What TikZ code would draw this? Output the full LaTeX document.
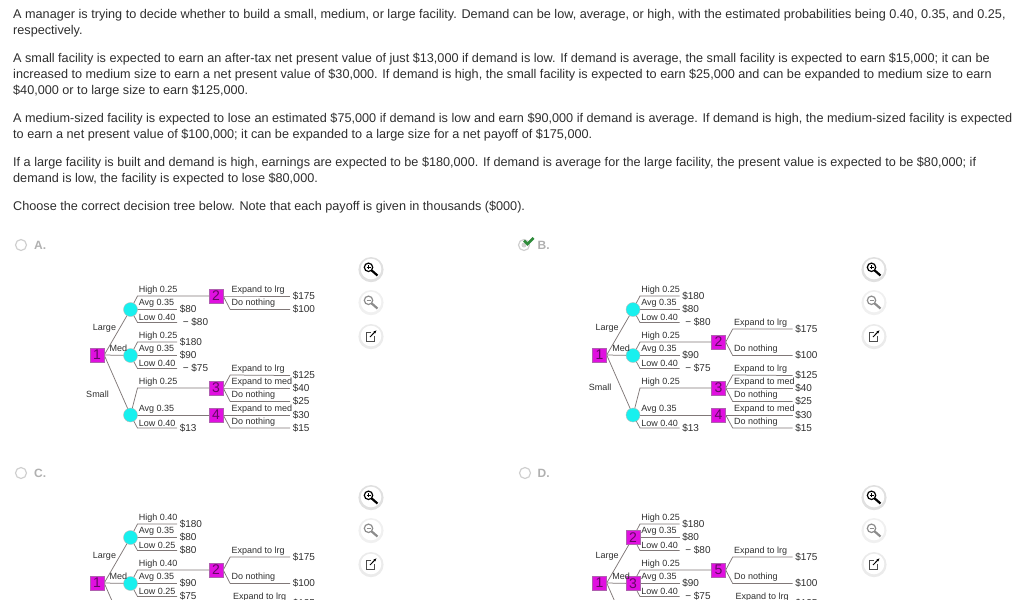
\documentclass[tikz,border=0pt]{standalone}
\usepackage{fontspec}
\setmainfont{Liberation Sans}
\usetikzlibrary{arrows.meta, positioning, shapes.geometric, backgrounds}

\definecolor{bodytext}{HTML}{2E2E2E}
\definecolor{edgegray}{HTML}{807878}
\definecolor{decfill}{HTML}{E010E0}
\definecolor{decline}{HTML}{B060B0}
\definecolor{chancefill}{HTML}{18F0EE}
\definecolor{radiogray}{HTML}{CFCFCF}
\definecolor{lettergray}{HTML}{B0B0B0}
\definecolor{checkgreen}{HTML}{2E8B3A}

\tikzset{
    para/.style={anchor=north west, inner sep=0pt, align=left, text=bodytext,
        font=\fontsize{12.66}{16}\selectfont},
    dec/.style={draw=decline, fill=decfill, minimum size=14pt, inner sep=0pt,
        text=black!55!decfill, font=\fontsize{14}{14}\selectfont},
    chance/.style={draw=edgegray!50, circle, fill=chancefill, minimum size=14pt, inner sep=0pt},
    branch/.style={draw=edgegray, line width=0.75pt},
    lab/.style={anchor=south west, inner xsep=1pt, inner ysep=1.5pt, text=bodytext, font=\fontsize{9}{9}\selectfont},
    alt/.style={inner sep=0pt, text=bodytext, font=\fontsize{9}{9}\selectfont},
    pay/.style={anchor=west, inner sep=2.6pt, text=bodytext, font=\fontsize{10}{10}\selectfont},
    radio/.style={draw=radiogray, circle, line width=1.2pt, minimum size=11pt, inner sep=0pt},
    letter/.style={anchor=west, inner sep=0pt, text=lettergray, font=\fontsize{12}{12}\selectfont\bfseries},
    halo/.pic={
        \fill[black!#1!white] (0,0.6) circle (12.6);
        \fill[black!#1!white, opacity=0.6] (0,0.6) circle (11.6);
        \fill[white] (0,0) circle (10.3);
    },
    zoomplus/.pic={
        \pic {halo=12};
        \draw[black, line width=1.2pt] (-2.5,-1.7) circle (4.2);
        \draw[black, line width=2.2pt] (0.6,1.4) -- (6.5,6.5);
        \draw[black, line width=0.7pt] (-4.5,-1.7) -- (-0.5,-1.7) (-2.5,-3.7) -- (-2.5,0.3);
    },
    zoomminus/.pic={
        \pic {halo=6};
        \draw[black!45, line width=1.2pt] (-2.5,-1.7) circle (4.2);
        \draw[black!45, line width=2.2pt] (0.6,1.4) -- (6.5,6.5);
        \draw[black!45, line width=0.7pt] (-4.5,-1.7) -- (-0.5,-1.7);
    },
    openlink/.pic={
        \pic {halo=8};
        \draw[black!70, line width=0.8pt] (0,-4) -- (-5,-4) -- (-5,5) -- (3,5) -- (3,0);
        \draw[black, line width=1pt, -{Latex[length=3.5pt]}] (-1,1) -- (5.8,-6);
    }
}

\begin{document}
\begin{tikzpicture}[x=1pt, y=-1pt]
    \useasboundingbox (0,0) rectangle (1024,611);

    % Question text
    \node[para] (q1) at (13,9.5) {A manager is trying to decide whether to build a small, medium, or large facility. Demand can be low, average, or high, with the estimated probabilities being 0.40, 0.35, and 0.25,\\respectively.};
    \node[para] (q2) at (13,52.5) {A small facility is expected to earn an after-tax net present value of just \$13,000 if demand is low. If demand is average, the small facility is expected to earn \$15,000; it can be\\increased to medium size to earn a net present value of \$30,000. If demand is high, the small facility is expected to earn \$25,000 and can be expanded to medium size to earn\\\$40,000 or to large size to earn \$125,000.};
    \node[para] (q3) at (13,112.5) {A medium-sized facility is expected to lose an estimated \$75,000 if demand is low and earn \$90,000 if demand is average. If demand is high, the medium-sized facility is expected\\to earn a net present value of \$100,000; it can be expanded to a large size for a net payoff of \$175,000.};
    \node[para] (q4) at (13,156.5) {If a large facility is built and demand is high, earnings are expected to be \$180,000. If demand is average for the large facility, the present value is expected to be \$80,000; if\\demand is low, the facility is expected to lose \$80,000.};
    \node[para] (q5) at (13,200.5) {Choose the correct decision tree below. Note that each payoff is given in thousands (\$000).};

    % Answer A
    \node[radio] (ra) at (21,245) {};
    \node[letter] (la) at (34,245) {A.};
    \pic at (371,269) {zoomplus};
    \pic at (371,302) {zoomminus};
    \pic at (371,336) {openlink};

    \node[dec] (a1) at (97,355) {1};
    \node[chance] (al) at (130.5,309.5) {};
    \node[chance] (am) at (130.5,355.5) {};
    \node[chance] (as) at (130.5,415) {};
    \node[dec] (a2) at (216,296) {2};
    \node[dec] (a3) at (216,388) {3};
    \node[dec] (a4) at (216,415) {4};
    \node[alt] (alarge) at (104.5,328) {Large};
    \node[alt] (amed) at (118.5,348) {Med};
    \node[alt] (asmall) at (97.5,394) {Small};
    \node[pay] (ap1) at (177,309.5) {\$80};
    \node[pay] (ap2) at (177,322.5) {\hspace{3pt}− \$80};
    \node[pay] (ap3) at (177,342) {\$180};
    \node[pay] (ap4) at (177,355.5) {\$90};
    \node[pay] (ap5) at (177,368.5) {\hspace{3pt}− \$75};
    \node[pay] (ap6) at (177,428) {\$13};
    \node[pay] (ap7) at (290,296) {\$175};
    \node[pay] (ap8) at (290,309.5) {\$100};
    \node[pay] (ap9) at (290,375.5) {\$125};
    \node[pay] (ap10) at (290,388) {\$40};
    \node[pay] (ap11) at (290,401.5) {\$25};
    \node[pay] (ap12) at (290,415) {\$30};
    \node[pay] (ap13) at (290,428) {\$15};

    \begin{scope}[on background layer]
        \draw[branch] (a1.east) -- (al.center);
        \draw[branch] (a1.east) -- (am.center);
        \draw[branch] (a1.east) -- (as.center);
        \draw[branch] (al.center) -- +(7,-13.5) -- node[lab, pos=0] {High 0.25} (a2);
        \draw[branch] (al.center) -- +(7,0) -- node[lab, pos=0] {Avg 0.35} (ap1.west);
        \draw[branch] (al.center) -- +(7,13) -- node[lab, pos=0] {Low 0.40} (ap2.west);
        \draw[branch] (am.center) -- +(7,-13.5) -- node[lab, pos=0] {High 0.25} (ap3.west);
        \draw[branch] (am.center) -- +(7,0) -- node[lab, pos=0] {Avg 0.35} (ap4.west);
        \draw[branch] (am.center) -- +(7,13) -- node[lab, pos=0] {Low 0.40} (ap5.west);
        \draw[branch] (as.center) -- +(7,-27) -- node[lab, pos=0] {High 0.25} (a3);
        \draw[branch] (as.center) -- +(7,0) -- node[lab, pos=0] {Avg 0.35} (a4);
        \draw[branch] (as.center) -- +(7,13) -- node[lab, pos=0] {Low 0.40} (ap6.west);
        \draw[branch] (a2.east) -- +(7,0) -- node[lab, pos=0] {Expand to lrg} (ap7.west);
        \draw[branch] (a2.east) -- +(7,13.5) -- node[lab, pos=0] {Do nothing} (ap8.west);
        \draw[branch] (a3.east) -- +(7,-13) -- node[lab, pos=0] {Expand to lrg} (ap9.west);
        \draw[branch] (a3.east) -- +(7,0) -- node[lab, pos=0] {Expand to med} (ap10.west);
        \draw[branch] (a3.east) -- +(7,13.5) -- node[lab, pos=0] {Do nothing} (ap11.west);
        \draw[branch] (a4.east) -- +(7,0) -- node[lab, pos=0] {Expand to med} (ap12.west);
        \draw[branch] (a4.east) -- +(7,13) -- node[lab, pos=0] {Do nothing} (ap13.west);
    \end{scope}

    % Answer B
    \begin{scope}[xshift=502.5pt]
    \node[radio] (rb) at (21.5,245) {};
    \fill[radiogray] (rb.center) circle (2.5);
    \draw[checkgreen, line width=2.8pt] (21.5,240.5) -- (25,244) -- (31,238);
    \node[letter] (lb) at (35,245) {B.};
    \pic at (371.5,269) {zoomplus};
    \pic at (371.5,302) {zoomminus};
    \pic at (371.5,336) {openlink};

    \node[dec] (b1) at (97,355) {1};
    \node[chance] (bl) at (130.5,309.5) {};
    \node[chance] (bm) at (130.5,355.5) {};
    \node[chance] (bs) at (130.5,415) {};
    \node[dec] (b2) at (216,342) {2};
    \node[dec] (b3) at (216,388) {3};
    \node[dec] (b4) at (216,415) {4};
    \node[alt] (blarge) at (104.5,328) {Large};
    \node[alt] (bmed) at (118.5,348) {Med};
    \node[alt] (bsmall) at (97.5,387) {Small};
    \node[pay] (bp1) at (177,296) {\$180};
    \node[pay] (bp2) at (177,309.5) {\$80};
    \node[pay] (bp3) at (177,322.5) {\hspace{3pt}− \$80};
    \node[pay] (bp4) at (177,355.5) {\$90};
    \node[pay] (bp5) at (177,368.5) {\hspace{3pt}− \$75};
    \node[pay] (bp6) at (177,428) {\$13};
    \node[pay] (bp7) at (290,329) {\$175};
    \node[pay] (bp8) at (290,355.5) {\$100};
    \node[pay] (bp9) at (290,375.5) {\$125};
    \node[pay] (bp10) at (290,388) {\$40};
    \node[pay] (bp11) at (290,401.5) {\$25};
    \node[pay] (bp12) at (290,415) {\$30};
    \node[pay] (bp13) at (290,428) {\$15};

    \begin{scope}[on background layer]
        \draw[branch] (b1.east) -- (bl.center);
        \draw[branch] (b1.east) -- (bm.center);
        \draw[branch] (b1.east) -- (bs.center);
        \draw[branch] (bl.center) -- +(7,-13.5) -- node[lab, pos=0] {High 0.25} (bp1.west);
        \draw[branch] (bl.center) -- +(7,0) -- node[lab, pos=0] {Avg 0.35} (bp2.west);
        \draw[branch] (bl.center) -- +(7,13) -- node[lab, pos=0] {Low 0.40} (bp3.west);
        \draw[branch] (bm.center) -- +(7,-13.5) -- node[lab, pos=0] {High 0.25} (b2);
        \draw[branch] (bm.center) -- +(7,0) -- node[lab, pos=0] {Avg 0.35} (bp4.west);
        \draw[branch] (bm.center) -- +(7,13) -- node[lab, pos=0] {Low 0.40} (bp5.west);
        \draw[branch] (bs.center) -- +(7,-27) -- node[lab, pos=0] {High 0.25} (b3);
        \draw[branch] (bs.center) -- +(7,0) -- node[lab, pos=0] {Avg 0.35} (b4);
        \draw[branch] (bs.center) -- +(7,13) -- node[lab, pos=0] {Low 0.40} (bp6.west);
        \draw[branch] (b2.east) -- +(7,-13) -- node[lab, pos=0] {Expand to lrg} (bp7.west);
        \draw[branch] (b2.east) -- +(7,13.5) -- node[lab, pos=0] {Do nothing} (bp8.west);
        \draw[branch] (b3.east) -- +(7,-13) -- node[lab, pos=0] {Expand to lrg} (bp9.west);
        \draw[branch] (b3.east) -- +(7,0) -- node[lab, pos=0] {Expand to med} (bp10.west);
        \draw[branch] (b3.east) -- +(7,13.5) -- node[lab, pos=0] {Do nothing} (bp11.west);
        \draw[branch] (b4.east) -- +(7,0) -- node[lab, pos=0] {Expand to med} (bp12.west);
        \draw[branch] (b4.east) -- +(7,13) -- node[lab, pos=0] {Do nothing} (bp13.west);
    \end{scope}
    \end{scope}

    % Answer C, cut off by the page fold
    \begin{scope}[yshift=-228pt]
    \node[radio] (rc) at (21,245) {};
    \node[letter] (lc) at (34,245) {C.};
    \pic at (371,269) {zoomplus};
    \pic at (371,302) {zoomminus};
    \pic at (371,336) {openlink};

    \node[dec] (c1) at (97,355) {1};
    \node[chance] (cl) at (130.5,309.5) {};
    \node[chance] (cm) at (130.5,355.5) {};
    \node[chance] (cs) at (130.5,415) {};
    \node[dec] (c2) at (216,342) {2};
    \node[alt] (clarge) at (104.5,328) {Large};
    \node[alt] (cmed) at (118.5,348) {Med};
    \node[pay] (cp1) at (177,296) {\$180};
    \node[pay] (cp2) at (177,309.5) {\$80};
    \node[pay] (cp3) at (177,322.5) {\$80};
    \node[pay] (cp4) at (177,355.5) {\$90};
    \node[pay] (cp5) at (177,368.5) {\$75};
    \node[pay] (cp7) at (290,329) {\$175};
    \node[pay] (cp8) at (290,355.5) {\$100};
    \node[pay] (cp9) at (290,375.5) {\$125};
    \node[lab] (cx) at (232,375) {Expand to lrg};

    \begin{scope}[on background layer]
        \draw[branch] (c1.east) -- (cl.center);
        \draw[branch] (c1.east) -- (cm.center);
        \draw[branch] (c1.east) -- (cs.center);
        \draw[branch] (cl.center) -- +(7,-13.5) -- node[lab, pos=0] {High 0.40} (cp1.west);
        \draw[branch] (cl.center) -- +(7,0) -- node[lab, pos=0] {Avg 0.35} (cp2.west);
        \draw[branch] (cl.center) -- +(7,13) -- node[lab, pos=0] {Low 0.25} (cp3.west);
        \draw[branch] (cm.center) -- +(7,-13.5) -- node[lab, pos=0] {High 0.40} (c2);
        \draw[branch] (cm.center) -- +(7,0) -- node[lab, pos=0] {Avg 0.35} (cp4.west);
        \draw[branch] (cm.center) -- +(7,13) -- node[lab, pos=0] {Low 0.25} (cp5.west);
        \draw[branch] (c2.east) -- +(7,-13) -- node[lab, pos=0] {Expand to lrg} (cp7.west);
        \draw[branch] (c2.east) -- +(7,13.5) -- node[lab, pos=0] {Do nothing} (cp8.west);
    \end{scope}
    \end{scope}

    % Answer D
    \begin{scope}[xshift=502.5pt, yshift=-228pt]
    \node[radio] (rd) at (22.5,245) {};
    \node[letter] (ld) at (35,245) {D.};
    \pic at (371.5,269) {zoomplus};
    \pic at (371.5,302) {zoomminus};
    \pic at (371.5,336) {openlink};

    \node[dec] (d1) at (97,355) {1};
    \node[dec] (dl) at (130.5,309.5) {2};
    \node[dec] (dm) at (130.5,355.5) {3};
    \node[chance] (ds) at (130.5,415) {};
    \node[dec] (d2) at (216,342) {5};
    \node[alt] (dlarge) at (104.5,328) {Large};
    \node[alt] (dmed) at (118.5,348) {Med};
    \node[pay] (dp1) at (177,296) {\$180};
    \node[pay] (dp2) at (177,309.5) {\$80};
    \node[pay] (dp3) at (177,322.5) {\hspace{3pt}− \$80};
    \node[pay] (dp4) at (177,355.5) {\$90};
    \node[pay] (dp5) at (177,368.5) {\hspace{3pt}− \$75};
    \node[pay] (dp7) at (290,329) {\$175};
    \node[pay] (dp8) at (290,355.5) {\$100};
    \node[pay] (dp9) at (290,375.5) {\$125};
    \node[lab] (dx) at (232,375) {Expand to lrg};

    \begin{scope}[on background layer]
        \draw[branch] (d1.east) -- (dl.center);
        \draw[branch] (d1.east) -- (dm.center);
        \draw[branch] (d1.east) -- (ds.center);
        \draw[branch] (dl.center) -- +(7,-13.5) -- node[lab, pos=0] {High 0.25} (dp1.west);
        \draw[branch] (dl.center) -- +(7,0) -- node[lab, pos=0] {Avg 0.35} (dp2.west);
        \draw[branch] (dl.center) -- +(7,13) -- node[lab, pos=0] {Low 0.40} (dp3.west);
        \draw[branch] (dm.center) -- +(7,-13.5) -- node[lab, pos=0] {High 0.25} (d2);
        \draw[branch] (dm.center) -- +(7,0) -- node[lab, pos=0] {Avg 0.35} (dp4.west);
        \draw[branch] (dm.center) -- +(7,13) -- node[lab, pos=0] {Low 0.40} (dp5.west);
        \draw[branch] (d2.east) -- +(7,-13) -- node[lab, pos=0] {Expand to lrg} (dp7.west);
        \draw[branch] (d2.east) -- +(7,13.5) -- node[lab, pos=0] {Do nothing} (dp8.west);
    \end{scope}
    \end{scope}

    % bottom strip hides what runs past the fold
    \fill[white] (0,600) rectangle (1024,612);
\end{tikzpicture}
\end{document}
